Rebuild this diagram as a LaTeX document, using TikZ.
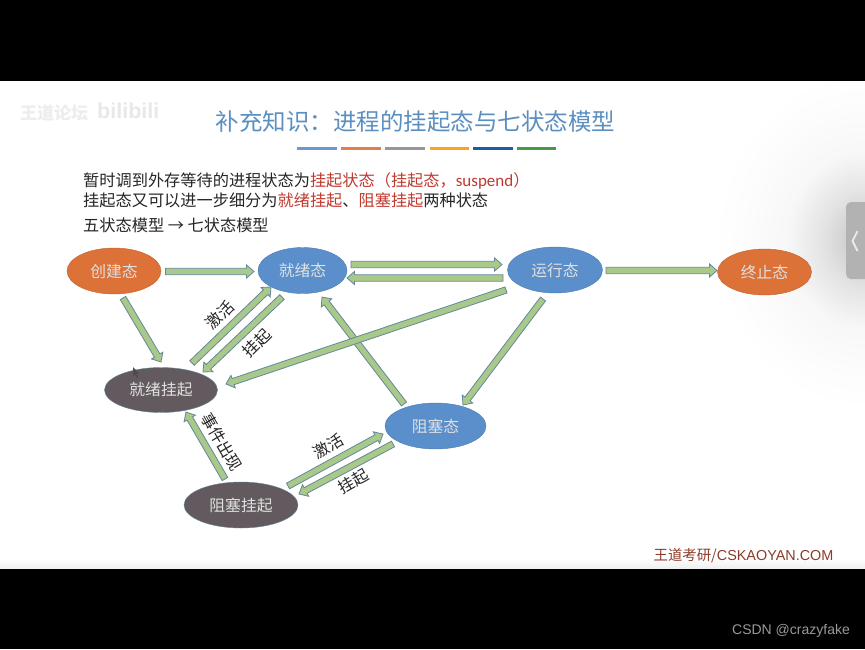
\documentclass[tikz,border=0pt]{standalone}
\usepackage{fontspec}
\setmainfont{Noto Sans CJK SC}
\newfontfamily\carlitofont{Carlito}
\newfontfamily\arialfont{Liberation Sans}
\usetikzlibrary{calc,shapes.geometric}
\definecolor{slidered}{HTML}{C0392F}
\definecolor{titleblue}{HTML}{5B8FC0}
\definecolor{orangefill}{HTML}{DD7238}
\definecolor{bluefill}{HTML}{5A8FCB}
\definecolor{darkfill}{HTML}{625A5E}
\definecolor{arrowfill}{HTML}{A9C98A}
\definecolor{arrowedge}{HTML}{64879A}
\definecolor{footerbrown}{HTML}{8C3B2A}
\pgfdeclareradialshading{softglow}{\pgfpointorigin}{color(0bp)=(black!24); color(7bp)=(black!11); color(13bp)=(black!3); color(20bp)=(black!1); color(25bp)=(white); color(50bp)=(white)}
\newcommand\fs[1]{\fontsize{#1}{#1}\selectfont}
\tikzset{
  statebase/.style={ellipse,inner sep=0pt,text=white!88!black,font=\fs{15.8}},
  orangestate/.style={statebase,fill=orangefill,draw=orangefill!85!black,line width=.4pt,minimum width=94pt,minimum height=46pt},
  bluestate/.style={statebase,fill=bluefill,draw=bluefill!85!black,line width=.4pt,minimum width=95pt,minimum height=46pt},
  darkstate/.style={statebase,fill=darkfill,draw=arrowedge,line width=.4pt,minimum width=113pt,minimum height=45pt},
  blockarrow/.style={fill=arrowfill,draw=arrowedge,line width=.8pt,line join=miter},
  edgelabel/.style={font=\fs{16},text=black!85,inner sep=0pt},
  textline/.style={anchor=west,inner sep=0pt,font=\fs{16.2},text=black!85},
  colorbar/.style={line width=3pt,opacity=.9}
}
\newcommand\blk[2]{%
  \coordinate (bs) at ($#1$);
  \coordinate (be) at ($#2$);
  \coordinate (bh) at ($(be)!7.5pt!(bs)$);
  \draw[blockarrow] ($(bs)!3.2pt!90:(be)$) -- ($(bh)!3.2pt!90:(be)$) -- ($(bh)!6.6pt!90:(be)$) -- (be)
    -- ($(bh)!6.6pt!-90:(be)$) -- ($(bh)!3.2pt!-90:(be)$) -- ($(bs)!3.2pt!-90:(be)$) -- cycle;}
\begin{document}
\begin{tikzpicture}[x=1pt,y=-1pt]
\useasboundingbox (0,0) rectangle (865,649);
\fill[black] (0,0) rectangle (865,649);
\fill[white] (0,81) rectangle (865,568);
\begin{scope}
  \clip (0,81) rectangle (865,568);
  \shade[shading=softglow] (715,70) rectangle (1015,410);
  \shade[top color=white,bottom color=black!6] (0,558) rectangle (865,568);
\end{scope}
% handle
\fill[black!30,rounded corners=5pt] (846,202) rectangle (870,279);
\draw[white!92!black,line width=1.8pt] (857.5,231) -- (852.5,241) -- (857.5,251);
% logo
\node[inner sep=0pt,anchor=west,font=\fs{17}\bfseries,text=black!7] (logoa) at (20,113) {王道论坛};
\node[inner sep=0pt,anchor=west,font=\fs{21.5}\bfseries,text=black!9] (logob) at (97,111) {\arialfont bilibili};
% title
\node[inner sep=0pt,font=\fs{23.5},text=titleblue] (title) at (415.5,122) {补充知识：进程的挂起态与七状态模型};
\draw[colorbar,draw=bluefill] (297,148) -- (337,148);
\draw[colorbar,draw=orangefill] (341,148) -- (381,148);
\draw[colorbar,draw=black!45] (385,148) -- (425,148);
\draw[colorbar,draw=orange!80!yellow] (430,148) -- (469,148);
\draw[colorbar,draw=blue!50!cyan!60!black] (473,148) -- (513,148);
\draw[colorbar,draw=green!45!black!80] (517,148) -- (556,148);
% body text
\node[textline] (l1) at (83,181) {暂时调到外存等待的进程状态为\textcolor{slidered}{挂起状态（挂起态，{\fs{17}\carlitofont suspend}）}};
\node[textline] (l2) at (83,200) {挂起态又可以进一步细分为\textcolor{slidered}{就绪挂起}、\textcolor{slidered}{阻塞挂起}两种状态};
\node[textline] (l3) at (83,225) {五状态模型 → 七状态模型};
% states
\node[orangestate] (cj) at (114,271) {创建态};
\node[bluestate,minimum width=89pt] (jx) at (302.5,270.5) {就绪态};
\node[bluestate] (yx) at (555,270) {运行态};
\node[orangestate] (zz) at (764.5,272) {终止态};
\node[darkstate] (jg) at (161,390) {就绪挂起};
\node[darkstate,minimum width=114pt,minimum height=46pt] (zg) at (241,505) {阻塞挂起};
\node[bluestate,minimum width=101pt] (zs) at (435.5,426) {阻塞态};
% connectors
\blk{(cj)+(51.5,0.5)}{(jx)+(-48.5,1)}
\blk{(cj)+(9,27)}{(jg)+(0,-28)}
\blk{(jx)+(48.5,-6)}{(yx)+(-53,-5.5)}
\blk{(yx)+(-52,8)}{(jx)+(44.5,7.5)}
\blk{(yx)+(51,0.5)}{(zz)+(-47.5,-1.5)}
\blk{(jg)+(31,-27)}{(jx)+(-31.5,16.5)}
\blk{(jx)+(-20.5,26.5)}{(jg)+(42,-18)}
\blk{(zs)+(-31.5,-22)}{(jx)+(19.5,26.5)}
\blk{(yx)+(-49,20)}{(jg)+(65,-6)}
\blk{(yx)+(-12,29)}{(zs)+(27.5,-21)}
\blk{(zg)+(-16,-26)}{(jg)+(25,22)}
\blk{(zg)+(47,-19)}{(zs)+(-52.5,8)}
\blk{(zs)+(-42.5,18)}{(zg)+(58,-11)}
% labels
\node[edgelabel,rotate=45] (la) at (220,315) {激活};
\node[edgelabel,rotate=45] (lb) at (257,343) {挂起};
\node[edgelabel,rotate=-60] (lc) at (222,442) {事件出现};
\node[edgelabel,rotate=30] (ld) at (328,446) {激活};
\node[edgelabel,rotate=30] (le) at (353,481) {挂起};
% cursor
\fill[black!70] (133,367) -- (133,376) -- (135,374.5) -- (137,378) -- (138,377.5) -- (136.5,374) -- (139,373.5) -- cycle;
% footer
\node[inner sep=0pt,font=\fs{14.4},text=footerbrown] (foot) at (743.5,555.5) {王道考研/{\arialfont CSKAOYAN.COM}};
\node[inner sep=0pt,font=\fs{14},text=black!40] (csdn) at (791,631) {\arialfont CSDN @crazyfake};
\end{tikzpicture}
\end{document}
